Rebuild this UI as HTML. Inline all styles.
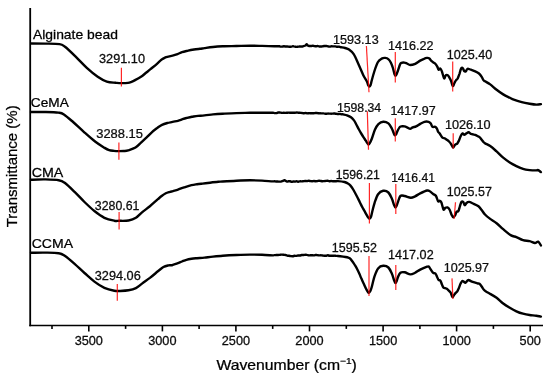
<!DOCTYPE html>
<html><head><meta charset="utf-8"><style>
html,body{margin:0;padding:0;background:#fff;}
body{width:550px;height:378px;overflow:hidden;}
svg{display:block;}
text{font-family:'Liberation Sans', Arial, sans-serif;stroke:#000;stroke-width:0.25px;}
.t{font-size:12px;fill:#111;}
.p{font-size:12px;fill:#111;}
.n{font-size:13px;fill:#000;}
.ax{font-size:14px;fill:#000;}
.ay{font-size:15px;fill:#000;}
</style></head><body>
<svg width="550" height="378" viewBox="0 0 550 378">
<line x1="30.2" y1="8" x2="30.2" y2="326.2" stroke="#000" stroke-width="1.8"/>
<line x1="29.3" y1="325.5" x2="543" y2="325.5" stroke="#000" stroke-width="1.4"/>
<line x1="530.2" y1="325" x2="530.2" y2="331.4" stroke="#000" stroke-width="1.6"/>
<text transform="translate(530.20 344.9) scale(1.06 1)" text-anchor="middle" class="t">500</text>
<line x1="493.4" y1="325" x2="493.4" y2="328.9" stroke="#000" stroke-width="1.6"/>
<line x1="456.6" y1="325" x2="456.6" y2="331.4" stroke="#000" stroke-width="1.6"/>
<text transform="translate(456.63 344.9) scale(1.06 1)" text-anchor="middle" class="t">1000</text>
<line x1="419.9" y1="325" x2="419.9" y2="328.9" stroke="#000" stroke-width="1.6"/>
<line x1="383.1" y1="325" x2="383.1" y2="331.4" stroke="#000" stroke-width="1.6"/>
<text transform="translate(383.07 344.9) scale(1.06 1)" text-anchor="middle" class="t">1500</text>
<line x1="346.3" y1="325" x2="346.3" y2="328.9" stroke="#000" stroke-width="1.6"/>
<line x1="309.5" y1="325" x2="309.5" y2="331.4" stroke="#000" stroke-width="1.6"/>
<text transform="translate(309.50 344.9) scale(1.06 1)" text-anchor="middle" class="t">2000</text>
<line x1="272.7" y1="325" x2="272.7" y2="328.9" stroke="#000" stroke-width="1.6"/>
<line x1="235.9" y1="325" x2="235.9" y2="331.4" stroke="#000" stroke-width="1.6"/>
<text transform="translate(235.93 344.9) scale(1.06 1)" text-anchor="middle" class="t">2500</text>
<line x1="199.1" y1="325" x2="199.1" y2="328.9" stroke="#000" stroke-width="1.6"/>
<line x1="162.4" y1="325" x2="162.4" y2="331.4" stroke="#000" stroke-width="1.6"/>
<text transform="translate(162.37 344.9) scale(1.06 1)" text-anchor="middle" class="t">3000</text>
<line x1="125.6" y1="325" x2="125.6" y2="328.9" stroke="#000" stroke-width="1.6"/>
<line x1="88.8" y1="325" x2="88.8" y2="331.4" stroke="#000" stroke-width="1.6"/>
<text transform="translate(88.80 344.9) scale(1.06 1)" text-anchor="middle" class="t">3500</text>
<line x1="52.0" y1="325" x2="52.0" y2="328.9" stroke="#000" stroke-width="1.6"/>
<path d="M31.4 43.5 C33.7 43.5 40.3 43.5 45.0 43.6 C49.7 43.7 56.2 43.6 59.5 44.1 C62.8 44.6 62.3 44.7 65.0 46.8 C67.7 48.9 72.3 53.4 75.9 56.9 C79.5 60.4 83.2 64.6 86.8 67.9 C90.4 71.2 94.4 74.5 97.7 76.8 C101.0 79.1 103.8 80.6 106.8 81.6 C109.8 82.6 113.6 82.5 115.9 82.8 C118.2 83.0 118.9 83.1 120.9 83.1 C122.9 83.1 126.2 83.1 128.0 82.9 C129.8 82.7 130.2 82.4 131.5 81.9 C132.8 81.4 133.9 80.8 135.5 79.9 C137.1 79.1 139.2 78.0 141.0 76.8 C142.8 75.6 144.4 74.1 146.0 72.8 C147.6 71.5 148.6 70.8 150.5 69.2 C152.4 67.6 155.6 65.0 157.5 63.3 C159.4 61.6 160.8 60.2 162.0 59.3 C163.2 58.3 164.1 58.0 165.0 57.6 C165.9 57.2 166.0 57.1 167.3 56.8 C168.6 56.5 170.9 56.0 172.6 55.6 C174.3 55.2 175.9 54.7 177.5 54.1 C179.1 53.5 180.2 52.8 182.0 52.2 C183.8 51.6 186.2 51.1 188.2 50.6 C190.2 50.1 192.0 49.8 194.0 49.5 C196.0 49.2 198.2 49.0 200.0 48.8 C201.8 48.6 202.3 48.4 204.5 48.1 C206.7 47.8 210.0 47.3 213.0 47.0 C216.0 46.7 218.8 46.5 222.7 46.3 C226.6 46.1 231.8 46.1 236.4 46.0 C241.0 45.9 245.7 45.7 250.0 45.7 C254.3 45.7 257.4 45.8 262.0 45.9 C266.6 46.0 274.5 46.3 277.3 46.3 C280.1 46.3 278.4 46.1 279.0 46.1 C279.5 46.2 280.1 46.5 280.6 46.6 C281.2 46.7 281.7 46.6 282.3 46.6 C282.8 46.5 283.4 46.3 283.9 46.3 C284.5 46.3 285.0 46.4 285.6 46.5 C286.1 46.5 286.7 46.5 287.2 46.5 C287.8 46.5 288.3 46.6 288.9 46.7 C289.4 46.7 290.0 46.8 290.5 46.8 C291.1 46.7 291.6 46.4 292.2 46.4 C292.7 46.3 293.3 46.3 293.8 46.4 C294.4 46.4 294.9 46.6 295.5 46.7 C296.1 46.8 296.8 46.9 297.4 46.8 C298.0 46.8 298.6 46.5 299.2 46.5 C299.9 46.4 300.5 46.6 301.1 46.6 C301.8 46.5 302.3 46.5 303.0 46.3 C303.7 46.1 304.9 45.8 305.5 45.5 C306.1 45.2 306.3 44.3 306.7 44.3 C307.1 44.3 307.3 45.3 308.0 45.6 C308.7 45.9 310.2 46.0 311.0 46.0 C311.8 46.0 312.1 45.7 312.7 45.7 C313.2 45.7 313.8 46.0 314.3 46.1 C314.9 46.1 315.5 46.3 316.0 46.3 C316.6 46.3 317.1 46.0 317.7 46.0 C318.2 46.0 318.8 46.4 319.4 46.5 C319.9 46.6 320.5 46.5 321.0 46.5 C321.6 46.5 322.1 46.4 322.7 46.3 C323.3 46.2 323.9 46.1 324.5 46.0 C325.1 46.0 325.7 46.0 326.3 46.0 C326.9 46.1 327.5 46.3 328.1 46.4 C328.8 46.5 329.4 46.7 330.0 46.6 C330.6 46.6 331.2 46.3 331.8 46.3 C332.4 46.3 333.0 46.4 333.6 46.4 C334.2 46.4 334.8 46.4 335.4 46.4 C336.0 46.5 336.6 46.7 337.2 46.8 C337.9 46.8 338.5 46.6 339.1 46.7 C339.7 46.8 339.9 47.0 340.9 47.2 C341.9 47.4 343.6 47.6 345.0 48.0 C346.4 48.4 347.6 48.5 349.0 49.5 C350.4 50.5 352.1 51.7 353.7 54.2 C355.3 56.7 356.9 60.8 358.5 64.3 C360.1 67.8 361.9 72.3 363.3 75.2 C364.7 78.1 366.1 79.8 366.9 81.5 C367.7 83.2 367.8 84.5 368.2 85.3 C368.6 86.1 368.9 86.6 369.3 86.6 C369.7 86.6 370.1 86.1 370.5 85.2 C370.9 84.3 371.0 83.3 371.6 81.0 C372.2 78.7 373.3 74.6 374.3 71.5 C375.3 68.4 376.6 64.5 377.8 62.3 C379.0 60.1 380.5 59.3 381.7 58.6 C382.9 57.9 384.0 57.8 385.2 57.9 C386.4 58.0 387.7 58.6 388.6 59.4 C389.6 60.2 390.2 61.4 390.9 62.8 C391.6 64.2 392.3 66.1 392.9 68.0 C393.5 69.9 394.1 72.9 394.5 74.2 C394.9 75.5 395.1 75.8 395.4 75.8 C395.7 75.8 396.1 75.3 396.5 74.5 C396.9 73.7 397.2 72.7 397.8 71.0 C398.4 69.3 399.4 65.9 400.0 64.5 C400.6 63.1 400.8 63.1 401.5 62.8 C402.2 62.5 403.5 62.5 404.4 62.6 C405.3 62.7 406.0 63.1 407.0 63.5 C408.0 63.9 408.8 65.0 410.2 65.0 C411.6 65.0 413.5 64.5 415.2 63.8 C416.9 63.1 418.7 61.4 420.2 60.6 C421.7 59.8 422.9 59.2 424.0 58.8 C425.1 58.3 426.0 58.0 426.9 57.9 C427.8 57.8 428.7 57.9 429.4 58.4 C430.1 58.9 430.4 60.0 431.1 60.7 C431.8 61.4 432.8 62.1 433.5 62.6 C434.2 63.1 434.9 63.3 435.5 64.0 C436.1 64.7 436.9 66.0 437.4 66.9 C437.9 67.9 438.1 69.4 438.6 69.7 C439.1 70.0 439.8 68.3 440.3 68.6 C440.9 68.9 441.3 69.8 441.9 71.4 C442.5 73.0 443.5 77.6 444.1 78.3 C444.7 79.0 445.1 75.9 445.7 75.4 C446.2 74.9 446.8 75.0 447.4 75.2 C447.9 75.4 448.4 75.8 449.0 76.8 C449.6 77.8 450.6 79.7 451.2 81.2 C451.8 82.8 452.2 85.8 452.8 86.1 C453.4 86.4 453.9 83.8 454.5 82.8 C455.1 81.8 455.6 80.8 456.1 80.1 C456.6 79.4 457.1 79.5 457.7 78.5 C458.2 77.5 458.8 75.7 459.4 74.1 C459.9 72.5 460.5 69.9 461.0 68.9 C461.5 67.9 462.1 67.5 462.6 67.9 C463.2 68.3 463.8 70.7 464.3 71.2 C464.9 71.8 465.4 71.6 465.9 71.2 C466.4 70.8 466.7 69.0 467.5 68.8 C468.3 68.5 469.5 69.3 470.8 69.7 C472.1 70.1 473.8 70.8 475.2 71.4 C476.6 72.0 477.9 72.6 479.0 73.5 C480.1 74.4 481.0 75.7 481.7 76.8 C482.4 77.9 482.8 79.3 483.4 80.1 C483.9 80.8 483.9 80.6 485.0 81.3 C486.1 82.0 488.3 83.0 490.2 84.4 C492.1 85.8 494.4 88.1 496.6 89.8 C498.8 91.5 501.0 93.1 503.2 94.4 C505.4 95.7 508.0 96.9 509.8 97.8 C511.6 98.7 511.8 99.0 513.8 99.7 C515.8 100.4 519.1 101.4 521.7 102.1 C524.3 102.8 527.2 103.3 529.6 103.7 C532.0 104.1 534.4 104.5 536.3 104.6 C538.2 104.7 540.1 104.2 540.9 104.1" fill="none" stroke="#000" stroke-width="2.4" stroke-linejoin="round" stroke-linecap="round"/>
<path d="M31.0 112.0 C33.3 112.0 40.5 111.9 45.0 112.0 C49.5 112.1 55.1 112.2 58.3 112.6 C61.4 113.0 61.4 112.8 63.9 114.4 C66.4 116.0 69.7 119.0 73.1 122.0 C76.5 125.0 80.6 129.0 84.3 132.3 C88.0 135.6 92.0 139.2 95.4 141.8 C98.8 144.4 102.3 146.5 104.6 147.9 C106.9 149.3 107.5 149.6 109.1 150.1 C110.6 150.6 112.2 150.7 113.9 150.9 C115.6 151.1 117.4 151.1 119.1 151.1 C120.8 151.1 122.5 151.1 124.0 151.0 C125.5 150.9 126.3 151.0 128.2 150.4 C130.1 149.8 133.4 148.9 135.5 147.6 C137.6 146.3 139.2 144.3 141.0 142.6 C142.8 140.9 144.6 139.3 146.4 137.6 C148.2 135.9 150.0 133.9 151.8 132.3 C153.6 130.7 155.6 129.2 157.3 127.9 C159.0 126.7 160.3 125.6 162.0 124.8 C163.7 124.0 165.5 123.5 167.3 123.0 C169.1 122.5 170.8 122.3 172.6 121.9 C174.4 121.5 176.3 121.2 177.9 120.8 C179.5 120.4 180.6 119.9 182.0 119.4 C183.4 118.9 184.7 118.4 186.4 118.0 C188.1 117.6 190.1 117.1 192.0 116.8 C193.9 116.5 195.9 116.1 198.0 115.9 C200.1 115.7 202.0 115.7 204.5 115.4 C207.0 115.2 210.0 114.7 213.0 114.4 C216.0 114.1 218.8 113.9 222.7 113.7 C226.6 113.5 231.8 113.2 236.4 113.1 C241.0 112.9 245.7 112.9 250.0 112.8 C254.3 112.7 258.2 112.7 262.0 112.7 C265.8 112.7 270.6 112.7 272.7 112.8 C274.8 112.9 273.9 113.0 274.5 113.1 C275.1 113.1 275.7 113.2 276.3 113.1 C276.9 113.0 277.5 112.6 278.1 112.5 C278.8 112.4 279.4 112.4 280.0 112.5 C280.6 112.5 281.2 112.9 281.8 112.9 C282.4 113.0 283.0 112.7 283.6 112.7 C284.2 112.7 284.7 112.8 285.2 112.9 C285.8 112.9 286.3 112.9 286.9 112.8 C287.4 112.8 287.9 112.6 288.5 112.6 C289.0 112.6 289.6 112.7 290.1 112.8 C290.7 112.8 291.2 112.8 291.7 112.8 C292.3 112.8 292.8 112.8 293.4 112.8 C293.9 112.7 294.4 112.7 295.0 112.7 C295.6 112.7 296.2 112.5 296.8 112.5 C297.3 112.5 297.9 112.7 298.5 112.8 C299.1 112.8 299.7 112.7 300.2 112.8 C300.8 112.8 301.4 113.0 302.0 113.0 C302.6 113.1 303.2 113.3 303.8 113.3 C304.3 113.3 304.9 113.0 305.5 113.0 C306.1 113.0 306.6 113.3 307.2 113.4 C307.7 113.4 308.3 113.2 308.9 113.2 C309.4 113.1 310.0 113.2 310.5 113.2 C311.1 113.2 311.7 113.3 312.2 113.3 C312.7 113.3 313.3 113.2 313.8 113.2 C314.3 113.1 314.9 113.1 315.4 113.0 C315.9 113.0 316.5 113.0 317.0 113.0 C317.5 113.1 318.1 113.3 318.6 113.3 C319.1 113.4 319.7 113.3 320.2 113.3 C320.7 113.3 321.2 113.4 321.8 113.4 C322.4 113.4 323.1 113.3 323.7 113.4 C324.3 113.4 325.0 113.7 325.6 113.8 C326.2 113.8 326.9 113.6 327.5 113.6 C328.1 113.5 328.8 113.6 329.4 113.6 C330.0 113.6 330.6 113.7 331.2 113.7 C331.7 113.7 332.3 113.6 332.9 113.6 C333.5 113.6 334.1 113.5 334.7 113.5 C335.3 113.6 335.9 113.7 336.4 113.8 C337.0 113.9 337.6 114.0 338.2 114.0 C338.8 114.0 339.3 113.9 339.9 113.9 C340.4 113.9 341.0 114.2 341.5 114.3 C342.1 114.4 342.3 114.2 343.2 114.4 C344.1 114.6 345.7 114.8 347.0 115.3 C348.3 115.8 349.8 116.4 351.0 117.3 C352.2 118.2 353.1 119.2 354.0 120.4 C354.9 121.6 355.5 123.0 356.3 124.5 C357.1 126.0 358.0 127.8 358.8 129.3 C359.6 130.8 360.4 132.2 361.2 133.5 C362.0 134.8 362.8 136.1 363.6 137.3 C364.4 138.5 365.2 139.8 365.8 140.7 C366.4 141.6 366.8 142.3 367.2 142.9 C367.6 143.5 368.0 144.4 368.4 144.5 C368.8 144.6 369.0 144.5 369.6 143.5 C370.2 142.5 371.0 140.8 371.9 138.5 C372.8 136.2 373.9 132.0 375.0 129.6 C376.1 127.2 377.0 125.4 378.4 124.1 C379.8 122.8 381.5 121.8 383.2 121.7 C384.9 121.6 387.0 122.3 388.4 123.4 C389.8 124.5 390.9 126.8 391.8 128.5 C392.7 130.2 393.4 132.4 393.9 133.6 C394.4 134.8 394.6 135.3 395.0 135.4 C395.4 135.5 395.8 134.9 396.2 134.2 C396.6 133.5 396.8 132.4 397.4 131.2 C398.0 130.0 399.0 127.8 399.8 127.0 C400.6 126.2 401.2 126.4 402.0 126.3 C402.8 126.2 403.6 126.2 404.4 126.4 C405.2 126.6 406.0 126.9 407.0 127.3 C408.0 127.7 409.2 128.8 410.2 128.8 C411.1 128.8 411.7 127.7 412.7 127.3 C413.7 126.9 414.9 127.0 416.1 126.4 C417.4 125.8 418.8 124.7 420.2 123.9 C421.6 123.1 423.0 122.2 424.4 121.8 C425.8 121.4 427.5 121.5 428.6 121.8 C429.7 122.1 430.2 122.7 430.8 123.5 C431.4 124.3 431.6 126.2 432.4 126.8 C433.1 127.3 434.5 126.5 435.3 126.8 C436.1 127.1 436.5 127.9 437.0 128.8 C437.5 129.7 437.8 131.3 438.2 132.0 C438.6 132.7 438.8 132.3 439.5 133.2 C440.2 134.1 441.6 136.8 442.5 137.6 C443.4 138.4 443.9 137.9 444.6 138.3 C445.3 138.7 446.1 139.3 446.8 139.8 C447.5 140.3 448.3 140.8 449.0 141.5 C449.7 142.2 450.5 143.2 451.2 144.2 C451.9 145.2 452.5 147.4 453.1 147.5 C453.7 147.6 454.3 145.5 455.0 144.8 C455.7 144.2 456.6 144.2 457.2 143.6 C457.8 142.9 458.2 142.1 458.8 140.9 C459.4 139.7 459.9 137.8 460.5 136.5 C461.1 135.2 462.0 133.7 462.6 133.4 C463.2 133.1 463.7 134.8 464.3 134.8 C464.9 134.8 465.8 133.7 466.5 133.3 C467.2 132.9 467.9 132.2 468.6 132.3 C469.3 132.4 470.1 133.5 470.8 133.8 C471.5 134.2 472.3 134.2 473.0 134.4 C473.7 134.6 474.5 134.6 475.2 134.9 C475.9 135.2 476.7 135.6 477.4 136.0 C478.1 136.4 478.8 136.5 479.5 137.1 C480.2 137.7 481.0 138.9 481.7 139.8 C482.4 140.7 483.3 141.9 483.9 142.5 C484.5 143.1 484.4 143.0 485.5 143.6 C486.6 144.2 488.3 144.8 490.2 146.1 C492.1 147.4 494.4 149.5 496.6 151.4 C498.8 153.3 501.0 155.8 503.2 157.6 C505.4 159.4 507.6 161.1 509.8 162.5 C512.0 163.9 514.2 165.0 516.4 166.1 C518.6 167.2 520.8 168.1 523.0 168.8 C525.2 169.5 527.4 169.8 529.6 170.1 C531.8 170.4 534.9 170.4 536.3 170.4 C537.7 170.4 537.4 169.8 538.2 170.1 C539.0 170.4 540.5 171.8 540.9 172.1" fill="none" stroke="#000" stroke-width="2.4" stroke-linejoin="round" stroke-linecap="round"/>
<path d="M31.0 179.8 C33.3 179.7 40.2 179.3 44.8 179.4 C49.4 179.5 55.4 179.6 58.7 180.2 C62.0 180.8 62.1 180.9 64.7 182.8 C67.3 184.8 71.3 188.7 74.6 191.9 C77.9 195.1 81.2 198.8 84.5 202.0 C87.8 205.2 91.1 208.4 94.4 211.0 C97.7 213.6 101.1 216.2 104.4 217.8 C107.7 219.4 111.8 220.2 114.3 220.7 C116.8 221.2 116.9 220.8 119.3 220.8 C121.7 220.8 125.7 221.0 128.5 220.5 C131.3 220.0 133.7 219.2 135.9 217.8 C138.2 216.5 139.7 214.3 142.0 212.4 C144.3 210.5 147.2 208.4 149.9 206.2 C152.6 204.0 155.9 200.9 157.9 199.2 C159.9 197.5 160.7 196.8 162.0 195.8 C163.3 194.8 164.5 194.0 165.8 193.3 C167.1 192.6 168.8 192.2 170.0 191.8 C171.2 191.4 171.7 191.5 173.0 191.1 C174.3 190.7 176.2 190.2 178.0 189.6 C179.8 189.0 181.8 188.1 184.1 187.4 C186.3 186.7 189.3 185.7 191.5 185.2 C193.7 184.7 195.2 184.5 197.0 184.2 C198.8 183.9 200.4 183.8 202.6 183.6 C204.8 183.3 207.4 183.0 210.0 182.7 C212.6 182.4 216.1 182.0 218.2 181.8 C220.3 181.6 219.7 181.7 222.7 181.5 C225.7 181.3 231.8 180.9 236.4 180.7 C241.0 180.5 245.7 180.3 250.0 180.3 C254.3 180.3 258.2 180.4 262.0 180.6 C265.8 180.8 270.6 181.3 272.7 181.4 C274.8 181.5 273.8 181.3 274.4 181.3 C274.9 181.3 275.5 181.5 276.0 181.5 C276.6 181.5 277.1 181.4 277.7 181.4 C278.2 181.5 278.8 181.6 279.3 181.6 C279.9 181.7 280.4 181.7 281.0 181.6 C281.6 181.5 282.2 181.2 282.8 181.0 C283.3 180.8 283.8 180.2 284.5 180.3 C285.2 180.4 286.3 181.4 287.0 181.6 C287.7 181.8 288.1 181.4 288.6 181.3 C289.1 181.3 289.7 181.2 290.2 181.3 C290.7 181.4 291.3 181.8 291.8 181.8 C292.3 181.8 292.9 181.5 293.4 181.4 C293.9 181.4 294.4 181.6 295.0 181.6 C295.6 181.6 296.1 181.3 296.7 181.3 C297.3 181.3 297.9 181.7 298.4 181.7 C299.0 181.7 299.6 181.3 300.1 181.3 C300.7 181.2 301.3 181.4 301.9 181.4 C302.4 181.4 303.0 181.2 303.6 181.1 C304.2 181.0 304.7 181.0 305.3 181.0 C305.9 181.0 306.4 181.1 307.0 181.1 C307.6 181.1 308.2 180.8 308.7 180.8 C309.3 180.8 309.9 181.0 310.5 181.1 C311.0 181.2 311.6 181.2 312.2 181.2 C312.8 181.2 313.3 181.0 313.9 181.0 C314.5 181.0 315.1 181.1 315.6 181.2 C316.2 181.2 316.8 181.2 317.4 181.1 C317.9 181.0 318.5 180.7 319.1 180.7 C319.7 180.7 320.2 180.9 320.8 181.0 C321.4 181.1 321.9 181.2 322.5 181.2 C323.1 181.2 323.7 181.1 324.2 181.1 C324.8 181.0 325.4 181.0 326.0 180.9 C326.5 180.8 327.1 180.7 327.7 180.7 C328.3 180.8 328.8 181.2 329.4 181.3 C330.0 181.3 330.5 181.1 331.1 181.0 C331.7 181.0 332.3 181.2 332.8 181.2 C333.4 181.3 334.0 181.3 334.6 181.3 C335.1 181.3 335.7 181.3 336.3 181.2 C336.9 181.2 336.6 181.0 338.0 181.1 C339.4 181.2 342.9 181.6 344.5 182.0 C346.1 182.4 346.5 182.7 347.5 183.3 C348.5 183.9 349.5 184.5 350.5 185.6 C351.5 186.7 352.6 188.4 353.5 190.0 C354.4 191.6 355.3 193.3 356.2 195.0 C357.1 196.7 357.9 198.3 358.7 199.9 C359.5 201.5 360.3 203.2 361.0 204.6 C361.7 206.0 362.3 207.1 363.0 208.4 C363.7 209.7 364.4 210.9 365.2 212.3 C366.0 213.7 366.9 215.5 367.6 216.6 C368.3 217.7 368.9 218.7 369.5 218.7 C370.1 218.7 370.5 218.1 371.0 216.8 C371.5 215.5 371.8 213.3 372.4 211.0 C373.0 208.7 373.7 205.6 374.6 202.8 C375.6 200.0 376.7 196.2 378.1 194.2 C379.5 192.2 381.5 191.1 383.2 190.8 C384.9 190.5 387.0 191.2 388.4 192.5 C389.8 193.8 390.8 196.4 391.8 198.6 C392.8 200.8 393.6 203.9 394.2 205.4 C394.8 206.9 395.0 207.4 395.4 207.5 C395.8 207.6 396.2 206.8 396.6 205.8 C397.0 204.9 397.4 203.4 398.0 201.8 C398.6 200.2 399.3 197.0 400.4 196.0 C401.5 195.0 403.0 195.7 404.7 196.0 C406.4 196.3 409.1 197.6 410.8 197.7 C412.5 197.8 413.5 197.0 415.1 196.3 C416.7 195.6 418.2 194.4 420.2 193.4 C422.2 192.4 425.4 190.8 427.1 190.5 C428.8 190.2 429.2 190.9 430.2 191.5 C431.2 192.1 432.2 193.2 433.2 194.0 C434.2 194.8 435.2 194.8 436.0 196.0 C436.8 197.2 437.5 200.6 438.1 201.4 C438.7 202.2 439.1 200.6 439.7 200.8 C440.2 201.0 440.8 201.1 441.4 202.5 C442.0 203.9 442.9 208.6 443.5 209.5 C444.1 210.4 444.6 208.2 445.2 207.9 C445.8 207.6 446.7 207.1 447.4 207.4 C448.1 207.7 448.8 208.2 449.5 209.5 C450.2 210.8 451.1 213.7 451.7 215.0 C452.3 216.3 452.8 217.1 453.4 217.2 C453.9 217.3 454.5 216.4 455.0 215.5 C455.5 214.6 456.1 212.4 456.6 211.7 C457.2 211.0 457.8 212.1 458.3 211.2 C458.9 210.3 459.4 207.9 459.9 206.3 C460.4 204.8 460.9 202.6 461.5 201.9 C462.1 201.2 462.6 201.4 463.2 201.9 C463.8 202.4 464.2 205.0 464.8 205.2 C465.4 205.4 465.8 203.6 466.5 203.0 C467.2 202.4 468.1 201.8 469.2 201.9 C470.3 202.0 471.4 202.8 473.0 203.5 C474.6 204.2 477.1 205.2 478.5 206.3 C479.9 207.4 480.6 208.7 481.7 210.1 C482.8 211.5 483.6 213.0 485.0 214.5 C486.4 216.0 488.3 217.5 490.2 218.9 C492.1 220.3 494.4 221.5 496.6 223.2 C498.8 224.9 500.8 227.2 503.2 229.2 C505.6 231.2 508.9 234.1 511.1 235.4 C513.3 236.7 514.4 236.3 516.4 237.1 C518.4 237.9 520.8 239.4 523.0 240.1 C525.2 240.8 527.6 240.6 529.6 241.1 C531.6 241.6 533.5 242.9 534.9 243.0 C536.3 243.1 537.2 241.3 538.2 241.7 C539.2 242.1 540.5 244.8 540.9 245.4" fill="none" stroke="#000" stroke-width="2.4" stroke-linejoin="round" stroke-linecap="round"/>
<path d="M31.0 252.8 C33.3 252.8 40.2 252.5 44.8 252.6 C49.4 252.7 55.4 252.7 58.7 253.2 C62.0 253.7 62.1 254.0 64.7 255.8 C67.3 257.6 71.3 261.0 74.6 263.9 C77.9 266.8 81.2 270.1 84.5 273.0 C87.8 275.9 91.1 279.1 94.4 281.6 C97.7 284.1 101.1 286.3 104.4 287.8 C107.7 289.3 111.8 290.2 114.3 290.7 C116.8 291.2 116.9 291.1 119.3 291.0 C121.7 290.9 125.7 290.8 128.5 290.3 C131.3 289.8 133.7 289.2 135.9 288.1 C138.2 287.0 139.7 285.3 142.0 283.6 C144.3 281.9 147.2 279.9 149.9 277.9 C152.6 275.8 155.7 273.1 157.9 271.3 C160.2 269.5 161.6 268.0 163.4 267.0 C165.2 266.0 167.1 265.7 168.5 265.4 C169.9 265.1 170.5 265.5 172.0 265.2 C173.5 264.9 175.6 264.0 177.3 263.4 C179.0 262.8 180.5 262.1 182.0 261.5 C183.5 260.9 184.8 260.2 186.4 259.8 C188.0 259.4 189.7 259.1 191.5 258.8 C193.3 258.5 194.8 258.4 197.0 258.2 C199.2 258.0 201.8 257.9 204.5 257.6 C207.2 257.3 210.0 256.9 213.0 256.6 C216.0 256.3 218.8 256.1 222.7 255.8 C226.6 255.5 231.8 255.2 236.4 255.0 C241.0 254.8 245.7 254.6 250.0 254.6 C254.3 254.6 258.2 254.7 262.0 254.8 C265.8 254.9 270.6 255.3 272.7 255.4 C274.8 255.5 273.9 255.2 274.5 255.1 C275.1 255.1 275.7 255.0 276.3 254.9 C276.9 254.9 277.5 255.1 278.1 255.0 C278.8 255.0 279.4 254.8 280.0 254.8 C280.6 254.7 281.2 254.6 281.8 254.6 C282.4 254.6 283.0 254.7 283.6 254.8 C284.2 254.9 284.8 254.9 285.4 255.0 C286.0 255.2 286.6 255.5 287.2 255.6 C287.8 255.8 288.5 255.8 289.1 255.8 C289.7 255.9 290.3 256.0 290.9 256.1 C291.5 256.2 292.1 256.2 292.7 256.2 C293.3 256.2 293.9 255.9 294.5 255.8 C295.1 255.8 295.7 255.9 296.4 255.9 C297.0 255.8 297.6 255.6 298.2 255.5 C298.8 255.5 299.4 255.6 300.0 255.5 C300.6 255.4 301.2 255.1 301.8 255.0 C302.4 255.0 303.0 255.0 303.6 255.0 C304.2 255.0 304.7 254.8 305.3 254.8 C305.9 254.8 306.5 254.8 307.0 254.9 C307.6 255.0 308.2 255.3 308.8 255.4 C309.3 255.4 309.9 255.3 310.5 255.3 C311.1 255.3 311.6 255.3 312.2 255.3 C312.8 255.4 313.3 255.4 313.9 255.4 C314.5 255.3 315.1 255.1 315.6 255.0 C316.2 255.0 316.8 255.1 317.4 255.1 C317.9 255.2 318.5 255.3 319.1 255.4 C319.7 255.4 320.2 255.3 320.8 255.3 C321.4 255.3 321.9 255.5 322.5 255.5 C323.1 255.6 323.7 255.6 324.2 255.7 C324.8 255.7 325.4 255.8 326.0 255.8 C326.5 255.7 327.1 255.3 327.7 255.3 C328.3 255.3 328.8 255.6 329.4 255.7 C330.0 255.8 330.5 255.8 331.1 255.8 C331.7 255.8 332.3 255.8 332.8 255.8 C333.4 255.8 334.0 255.6 334.6 255.7 C335.1 255.7 335.7 255.9 336.3 255.9 C336.9 256.0 336.0 255.7 338.0 256.0 C340.0 256.3 346.1 256.9 348.3 257.6 C350.5 258.3 350.4 259.0 351.4 260.1 C352.4 261.2 353.6 263.0 354.5 264.5 C355.4 266.0 356.3 267.4 357.1 269.0 C357.9 270.6 358.8 272.4 359.5 274.0 C360.2 275.6 360.7 277.1 361.4 278.6 C362.1 280.1 362.6 281.3 363.5 283.2 C364.4 285.1 365.9 288.6 366.8 290.2 C367.7 291.8 368.0 292.7 368.6 292.9 C369.2 293.1 369.7 292.1 370.2 291.2 C370.7 290.3 370.9 290.0 371.6 287.5 C372.3 285.0 373.5 279.3 374.6 276.1 C375.7 272.9 376.7 270.1 378.1 268.4 C379.5 266.7 381.5 265.9 383.2 265.8 C384.9 265.7 387.0 266.2 388.4 267.5 C389.8 268.8 390.8 271.4 391.8 273.6 C392.8 275.8 393.6 278.9 394.2 280.5 C394.8 282.1 395.0 282.9 395.4 283.0 C395.8 283.1 396.2 282.2 396.6 281.2 C397.0 280.2 397.4 278.4 398.0 277.0 C398.6 275.6 399.3 273.5 400.4 272.7 C401.5 271.9 403.0 272.0 404.7 272.3 C406.4 272.6 408.7 274.3 410.4 274.4 C412.1 274.5 413.5 273.5 415.1 272.7 C416.7 271.9 418.2 270.6 420.2 269.6 C422.2 268.6 425.7 267.2 427.1 266.7 C428.5 266.2 428.2 266.2 428.8 266.6 C429.4 267.0 429.8 268.1 430.5 269.1 C431.2 270.2 432.4 272.2 433.2 272.9 C434.0 273.6 434.8 272.9 435.4 273.5 C436.0 274.1 436.5 275.6 437.0 276.7 C437.5 277.8 438.1 279.4 438.6 280.0 C439.2 280.6 439.8 279.8 440.3 280.5 C440.9 281.2 441.4 283.2 441.9 284.4 C442.4 285.6 442.9 287.0 443.5 287.6 C444.1 288.2 444.6 288.0 445.2 288.2 C445.8 288.4 446.2 288.3 446.8 288.7 C447.4 289.1 447.9 289.8 448.5 290.4 C449.1 291.0 450.0 291.4 450.6 292.5 C451.2 293.6 451.8 296.4 452.3 296.9 C452.9 297.4 453.4 295.9 453.9 295.3 C454.4 294.7 454.9 293.7 455.5 293.1 C456.1 292.5 456.6 292.3 457.2 291.5 C457.8 290.7 458.2 289.5 458.8 288.2 C459.4 286.9 459.9 285.0 460.5 283.8 C461.1 282.6 461.6 281.5 462.1 281.1 C462.6 280.7 463.1 281.3 463.7 281.6 C464.2 281.9 464.8 282.8 465.4 282.7 C465.9 282.6 466.5 281.6 467.0 281.1 C467.5 280.7 468.0 280.0 468.6 280.0 C469.2 280.0 470.0 280.7 470.8 281.1 C471.6 281.5 472.4 281.8 473.5 282.2 C474.6 282.6 476.4 283.0 477.4 283.3 C478.4 283.6 478.8 283.3 479.5 283.8 C480.2 284.3 481.0 285.5 481.7 286.5 C482.4 287.5 483.2 289.0 483.9 289.8 C484.6 290.6 484.9 290.8 486.0 291.5 C487.1 292.2 488.4 292.8 490.2 293.9 C492.0 294.9 494.4 296.2 496.6 297.8 C498.8 299.4 501.0 301.8 503.2 303.5 C505.4 305.2 507.6 306.5 509.8 307.8 C512.0 309.1 514.2 310.3 516.4 311.3 C518.6 312.3 520.8 313.1 523.0 313.7 C525.2 314.3 527.4 314.7 529.6 315.0 C531.8 315.3 534.4 315.4 536.3 315.7 C538.2 316.0 540.1 316.5 540.9 316.6" fill="none" stroke="#000" stroke-width="2.4" stroke-linejoin="round" stroke-linecap="round"/>
<line x1="121.4" y1="67.8" x2="121.4" y2="86.6" stroke="#f00" stroke-opacity="0.85" stroke-width="1.2"/>
<line x1="366.4" y1="46.0" x2="369.0" y2="92.3" stroke="#f00" stroke-opacity="0.85" stroke-width="1.2"/>
<line x1="395.3" y1="52.0" x2="395.3" y2="82.5" stroke="#f00" stroke-opacity="0.85" stroke-width="1.2"/>
<line x1="452.7" y1="61.5" x2="452.7" y2="91.6" stroke="#f00" stroke-opacity="0.85" stroke-width="1.2"/>
<line x1="118.9" y1="142.4" x2="118.9" y2="159.8" stroke="#f00" stroke-opacity="0.85" stroke-width="1.2"/>
<line x1="367.3" y1="111.3" x2="368.5" y2="149.7" stroke="#f00" stroke-opacity="0.85" stroke-width="1.2"/>
<line x1="395.3" y1="118.2" x2="395.3" y2="141.5" stroke="#f00" stroke-opacity="0.85" stroke-width="1.2"/>
<line x1="453.2" y1="133.2" x2="453.2" y2="148.7" stroke="#f00" stroke-opacity="0.85" stroke-width="1.2"/>
<line x1="119.1" y1="212.1" x2="119.1" y2="229.5" stroke="#f00" stroke-opacity="0.85" stroke-width="1.2"/>
<line x1="369.4" y1="183.1" x2="369.4" y2="223.6" stroke="#f00" stroke-opacity="0.85" stroke-width="1.2"/>
<line x1="395.8" y1="183.9" x2="395.8" y2="214.0" stroke="#f00" stroke-opacity="0.85" stroke-width="1.2"/>
<line x1="455.5" y1="202.2" x2="454.1" y2="218.9" stroke="#f00" stroke-opacity="0.85" stroke-width="1.2"/>
<line x1="117.3" y1="284.0" x2="117.3" y2="300.8" stroke="#f00" stroke-opacity="0.85" stroke-width="1.2"/>
<line x1="369.0" y1="255.9" x2="369.0" y2="296.0" stroke="#f00" stroke-opacity="0.85" stroke-width="1.2"/>
<line x1="395.8" y1="265.0" x2="395.8" y2="289.9" stroke="#f00" stroke-opacity="0.85" stroke-width="1.2"/>
<line x1="452.0" y1="278.4" x2="452.9" y2="299.0" stroke="#f00" stroke-opacity="0.85" stroke-width="1.2"/>
<text transform="translate(98.99 62.90) scale(1.0604 1)" class="p">3291.10</text>
<text transform="translate(333.10 44.20) scale(1.0507 1)" class="p">1593.13</text>
<text transform="translate(388.08 49.80) scale(1.0470 1)" class="p">1416.22</text>
<text transform="translate(446.87 59.10) scale(1.0463 1)" class="p">1025.40</text>
<text transform="translate(96.21 138.20) scale(1.0756 1)" class="p">3288.15</text>
<text transform="translate(336.93 112.20) scale(1.0210 1)" class="p">1598.34</text>
<text transform="translate(390.42 114.60) scale(1.0427 1)" class="p">1417.97</text>
<text transform="translate(444.89 129.30) scale(1.0565 1)" class="p">1026.10</text>
<text transform="translate(94.78 210.20) scale(1.0300 1)" class="p">3280.61</text>
<text transform="translate(335.69 179.30) scale(1.0206 1)" class="p">1596.21</text>
<text transform="translate(391.14 182.20) scale(1.0091 1)" class="p">1416.41</text>
<text transform="translate(446.70 196.40) scale(1.0419 1)" class="p">1025.57</text>
<text transform="translate(94.76 279.90) scale(1.0623 1)" class="p">3294.06</text>
<text transform="translate(331.87 252.20) scale(1.0399 1)" class="p">1595.52</text>
<text transform="translate(388.11 259.40) scale(1.0499 1)" class="p">1417.02</text>
<text transform="translate(443.70 272.40) scale(1.0467 1)" class="p">1025.97</text>
<text transform="translate(32.99 38.90) scale(1.0685 1)" class="n">Alginate bead</text>
<text transform="translate(30.81 106.70) scale(1.0514 1)" class="n">CeMA</text>
<text transform="translate(31.64 176.50) scale(1.0951 1)" class="n">CMA</text>
<text transform="translate(31.64 248.30) scale(1.0816 1)" class="n">CCMA</text>
<text transform="translate(216.4 369.7) scale(1.125 1)" class="ax">Wavenumber (cm<tspan dy="-5.5" font-size="9">−1</tspan><tspan dy="5.5">)</tspan></text>
<text transform="translate(17.3 227.3) rotate(-90)" class="ay">Transmittance (%)</text>
</svg>
</body></html>
